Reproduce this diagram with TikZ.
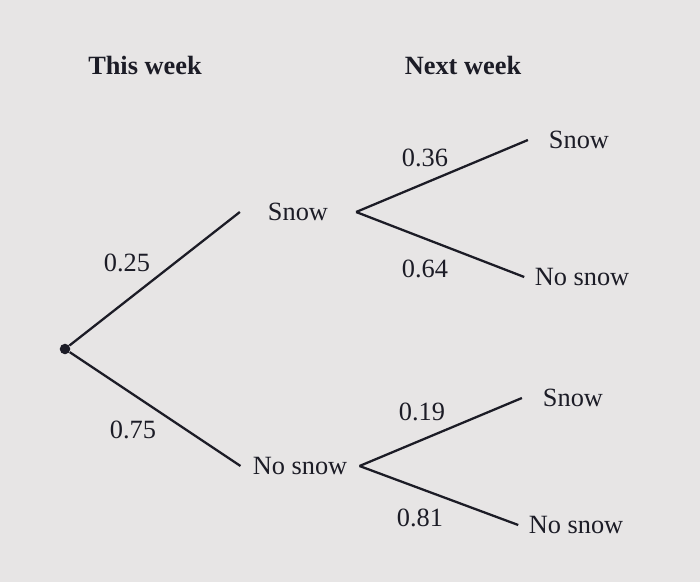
\documentclass[tikz,border=0pt]{standalone}
\usepackage{fontspec}
\setmainfont{Liberation Serif}
\usepackage{tikz}
\usetikzlibrary{positioning}

\definecolor{paper}{RGB}{231,229,229}
\definecolor{ink}{RGB}{28,28,38}

\tikzset{
  lbl/.style={font=\fontsize{15}{18}\selectfont, text=ink, inner sep=2pt},
  head/.style={lbl, font=\fontsize{15}{18}\selectfont\bfseries},
  branch/.style={draw=ink, line width=1.3pt}
}

\begin{document}
\begin{tikzpicture}[x=0.02cm,y=-0.02cm]
            \fill [paper] (0,0) rectangle (700,582);
            \useasboundingbox (0,0) rectangle (700,582);

            \node [head] (thisweek) at (145,65) {This week};
            \node [head] (nextweek) at (463,65) {Next week};

            \node [circle, fill=ink, inner sep=0pt, minimum size=6pt] (root) at (65,349) {};
            \node [lbl, outer xsep=14pt] (snow) at (298,212) {Snow};
            \node [lbl, outer xsep=5pt] (nosnow) at (300,466) {No snow};

            \node [lbl, outer xsep=10pt] (snowsnow) at (579,140) {Snow};
            \node [lbl, outer xsep=4pt] (snownosnow) at (582,277) {No snow};
            \node [lbl, outer xsep=10pt] (nosnowsnow) at (573,398) {Snow};
            \node [lbl, outer xsep=4pt] (nosnownosnow) at (576,525) {No snow};

            \draw [branch] (root) -- (snow.west);
            \draw [branch] (root) -- (nosnow.west);
            \draw [branch] (snow.east) -- (snowsnow.west);
            \draw [branch] (snow.east) -- (snownosnow.west);
            \draw [branch] (nosnow.east) -- (nosnowsnow.west);
            \draw [branch] (nosnow.east) -- (nosnownosnow.west);

            \node [lbl] (p25) at (127,263) {0.25};
            \node [lbl] (p75) at (133,430) {0.75};
            \node [lbl] (p36) at (425,158) {0.36};
            \node [lbl] (p64) at (425,269) {0.64};
            \node [lbl] (p19) at (422,412) {0.19};
            \node [lbl] (p81) at (420,518) {0.81};
        \end{tikzpicture}
\end{document}
